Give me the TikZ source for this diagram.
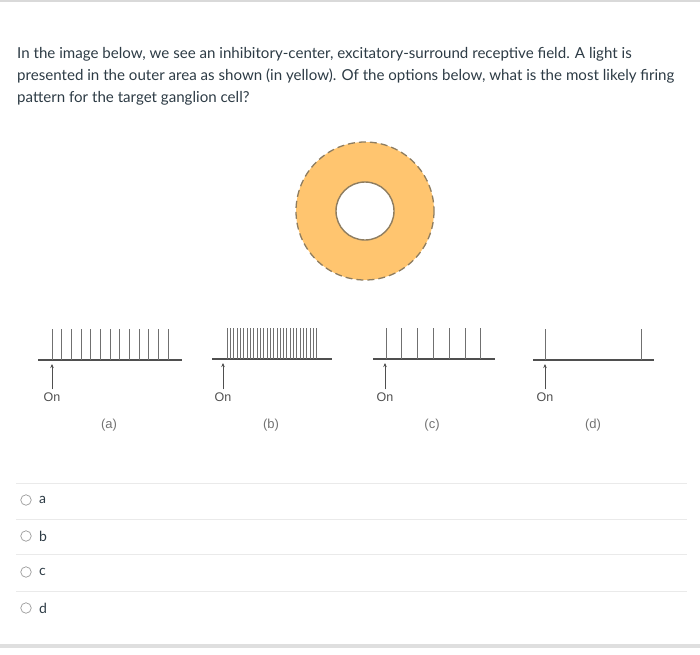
\documentclass[tikz,border=0pt]{standalone}
\usepackage{fontspec}
\setmainfont{Lato}
\newfontfamily\labelfont{Liberation Sans}
\usepackage{xcolor}
\usepackage{tikz}
\usetikzlibrary{arrows.meta}

\definecolor{ringfill}{HTML}{FFC56F}
\definecolor{ringline}{HTML}{8E7D60}
\definecolor{train}{HTML}{4F4F4F}
\definecolor{spikecol}{HTML}{707070}
\definecolor{seprule}{HTML}{EAEAEA}
\definecolor{qtext}{HTML}{2D3B45}

\tikzset{
	qline/.style={anchor=base west, inner sep=0pt, text=qtext, font=\fontsize{15.1}{22}\selectfont},
	onlabel/.style={inner sep=0pt, text=train, font=\labelfont\fontsize{12.5}{14}\selectfont},
	caplabel/.style={inner sep=0pt, text=train!80, font=\labelfont\fontsize{13}{15}\selectfont},
	optlabel/.style={anchor=west, inner sep=0pt, text=qtext, font=\fontsize{14}{16}\selectfont},
	radio/.style={circle, draw=gray!80, line width=0.7pt, minimum size=10.5pt, inner sep=0pt},
	baseline/.style={draw=train, line width=1.6pt},
	spike/.style={draw=spikecol, line width=0.9pt},
	onarrow/.style={draw=train, line width=0.9pt, shorten <=3pt, -{Stealth[length=4pt,width=3.5pt]}}
}

\begin{document}
\begin{tikzpicture}[x=1pt,y=-1pt]
	\useasboundingbox (0,0) rectangle (700,654);
	\draw[gray!30, line width=1.5pt] (0,1) -- (700,1);
	\fill[gray!25] (0,644) rectangle (700,648);

	% question
	\node[qline] (q1) at (17,58) {In the image below, we see an inhibitory-center, excitatory-surround receptive field. A light is};
	\node[qline] (q2) at (17,80) {presented in the outer area as shown (in yellow). Of the options below, what is the most likely firing};
	\node[qline] (q3) at (17,102) {pattern for the target ganglion cell?};

	% receptive field
	\fill[ringfill] (365,211) circle (69);
	\draw[ringline, line width=1.3pt, dash pattern=on 7pt off 4pt] (365,211) circle (69);
	\filldraw[fill=white, draw=ringline, line width=1.4pt] (365,211) circle (29);

	% spike trains
	\draw[baseline] (38,360) -- (182,360);
	\foreach \i in {0,...,12}
		\draw[spike] ({52+9.67*\i},329) -- ({52+9.67*\i},360);
	\draw[baseline] (212,359) -- (332,359);
	\foreach \i in {0,...,27}
		\draw[spike] ({227+3.33*\i},328) -- ({227+3.33*\i},359);
	\draw[baseline] (373,359) -- (495,359);
	\foreach \i in {0,...,6}
		\draw[spike] ({386+15.8*\i},328) -- ({386+15.8*\i},359);
	\draw[baseline] (533,360) -- (654,360);
	\foreach \x in {545,641}
		\draw[spike] (\x,329) -- (\x,360);

	% stimulus onset
	\foreach \n/\x/\y in {a/52/360, b/223/359, c/385/359, d/545/360} {
		\node[onlabel] (on\n) at (\x,397) {On};
		\coordinate (t\n) at (\x,{\y+4});
		\draw[onarrow] (on\n.north) -- (t\n);
	}
	\foreach \n/\x in {a/109, b/271, c/432, d/593}
		\node[caplabel] (cap\n) at (\x,425) {(\n)};

	% answers
	\foreach \y in {483,519,554,591}
		\draw[seprule, line width=1pt] (16,\y) -- (687,\y);
	\foreach \n/\y in {a/500, b/536, c/572, d/608} {
		\node[radio] (r\n) at (26,\y) {};
		\node[optlabel] (o\n) at (39,\y) {\n};
	}
\end{tikzpicture}
\end{document}
